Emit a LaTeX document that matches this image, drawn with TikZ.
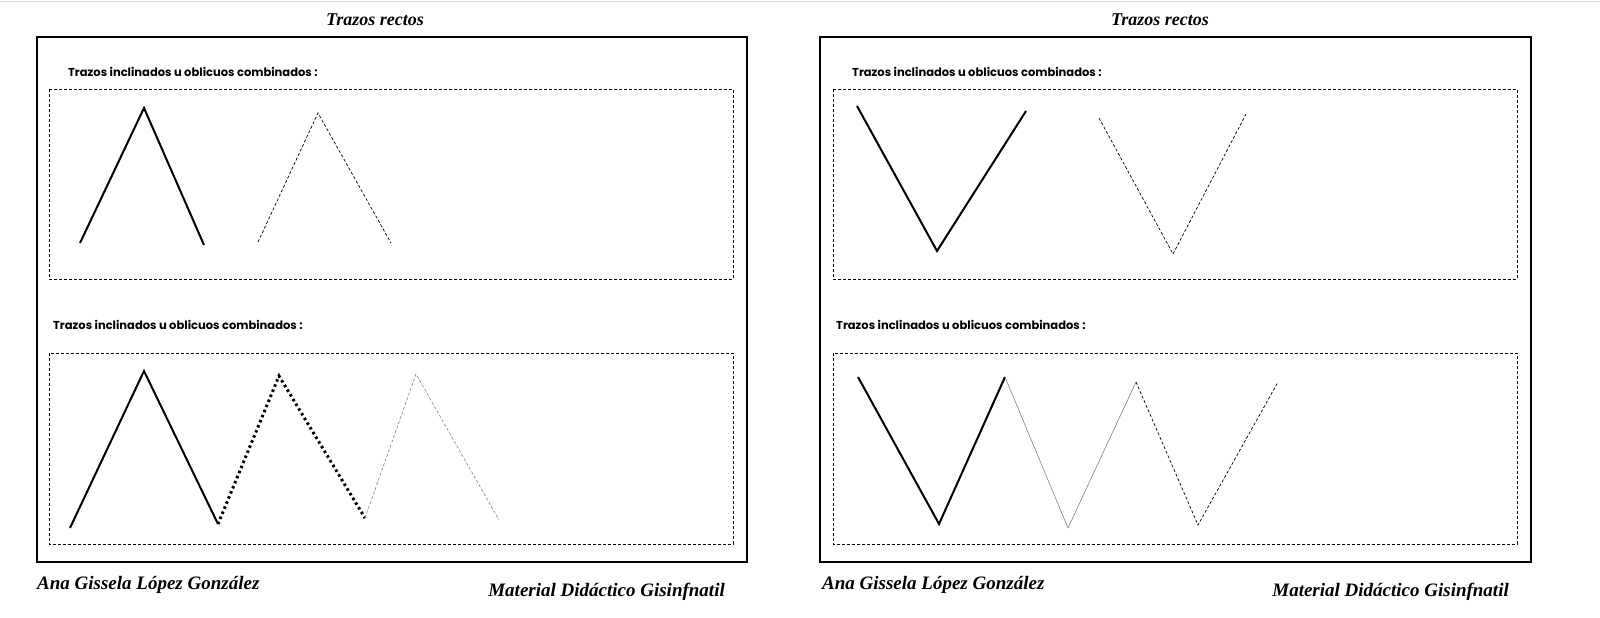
\documentclass[tikz,border=0pt]{standalone}
\usepackage{fontspec}
\setmainfont{Liberation Serif}
\newfontfamily\lab{Poppins}
\begin{document}
\begin{tikzpicture}[x=1pt,y=-1pt,
  frame/.style={draw,line width=2pt},
  dbox/.style={draw,dashed,line width=0.6pt,dash pattern=on 3pt off 2pt},
  lbl/.style={anchor=west,font=\lab\fontsize{11.5}{13}\selectfont\bfseries,inner sep=0},
  ttl/.style={font=\bfseries\itshape\fontsize{18}{20}\selectfont,inner sep=0},
  foot/.style={font=\bfseries\itshape\fontsize{19}{21}\selectfont,inner sep=0},
  solid2/.style={line width=2pt},
  dash1/.style={line width=0.7pt,dash pattern=on 3pt off 2pt},
  dotthick/.style={line width=3pt,dash pattern=on 2.5pt off 3pt},
  gthin/.style={line width=0.6pt,gray},
  gdash/.style={line width=0.6pt,gray,dash pattern=on 3pt off 2pt},
]
\useasboundingbox (0,0) rectangle (1600,618);
\draw[gray!30] (0,1) -- (1600,1);
% left panel
\node[ttl] (t1) at (375,20) {Trazos rectos};
\draw[frame] (37,37) rectangle (747,562);
\node[lbl] (l1) at (68,72) {Trazos inclinados u oblicuos combinados :};
\draw[dbox] (49,89) rectangle (733,279);
\coordinate (a1) at (80,243); \coordinate (a2) at (144,108); \coordinate (a3) at (204,245);
\draw[solid2] (a1) -- (a2) -- (a3);
\coordinate (b1) at (258,242); \coordinate (b2) at (318,113); \coordinate (b3) at (391,243);
\draw[dash1] (b1) -- (b2) -- (b3);
\node[lbl] (l2) at (53,325) {Trazos inclinados u oblicuos combinados :};
\draw[dbox] (49,353) rectangle (733,544);
\coordinate (c1) at (70,528); \coordinate (c2) at (144,371); \coordinate (c3) at (218,524);
\coordinate (c4) at (279,376); \coordinate (c5) at (365,518); \coordinate (c6) at (416,374); \coordinate (c7) at (499,520);
\draw[solid2] (c1) -- (c2) -- (c3);
\draw[dotthick] (c3) -- (c4) -- (c5);
\draw[gdash] (c5) -- (c6) -- (c7);
\node[foot,anchor=west] (f1) at (37,585) {Ana Gissela López González};
\node[foot,anchor=east] (f2) at (725,592) {Material Didáctico Gisinfnatil};
% right panel
\node[ttl] (t2) at (1160,20) {Trazos rectos};
\draw[frame] (820,37) rectangle (1531,562);
\node[lbl] (l3) at (852,72) {Trazos inclinados u oblicuos combinados :};
\draw[dbox] (833,89) rectangle (1517,279);
\coordinate (d1) at (857,106); \coordinate (d2) at (937,251); \coordinate (d3) at (1026,111);
\draw[solid2] (d1) -- (d2) -- (d3);
\coordinate (e1) at (1099,118); \coordinate (e2) at (1173,254); \coordinate (e3) at (1246,114);
\draw[dash1] (e1) -- (e2) -- (e3);
\node[lbl] (l4) at (836,325) {Trazos inclinados u oblicuos combinados :};
\draw[dbox] (833,353) rectangle (1517,544);
\coordinate (g1) at (858,377); \coordinate (g2) at (939,524); \coordinate (g3) at (1005,377);
\coordinate (g4) at (1068,528); \coordinate (g5) at (1136,382); \coordinate (g6) at (1198,525); \coordinate (g7) at (1278,382);
\draw[solid2] (g1) -- (g2) -- (g3);
\draw[gthin] (g3) -- (g4) -- (g5);
\draw[dash1] (g5) -- (g6) -- (g7);
\node[foot,anchor=west] (f3) at (822,585) {Ana Gissela López González};
\node[foot,anchor=east] (f4) at (1509,592) {Material Didáctico Gisinfnatil};
\end{tikzpicture}
\end{document}
